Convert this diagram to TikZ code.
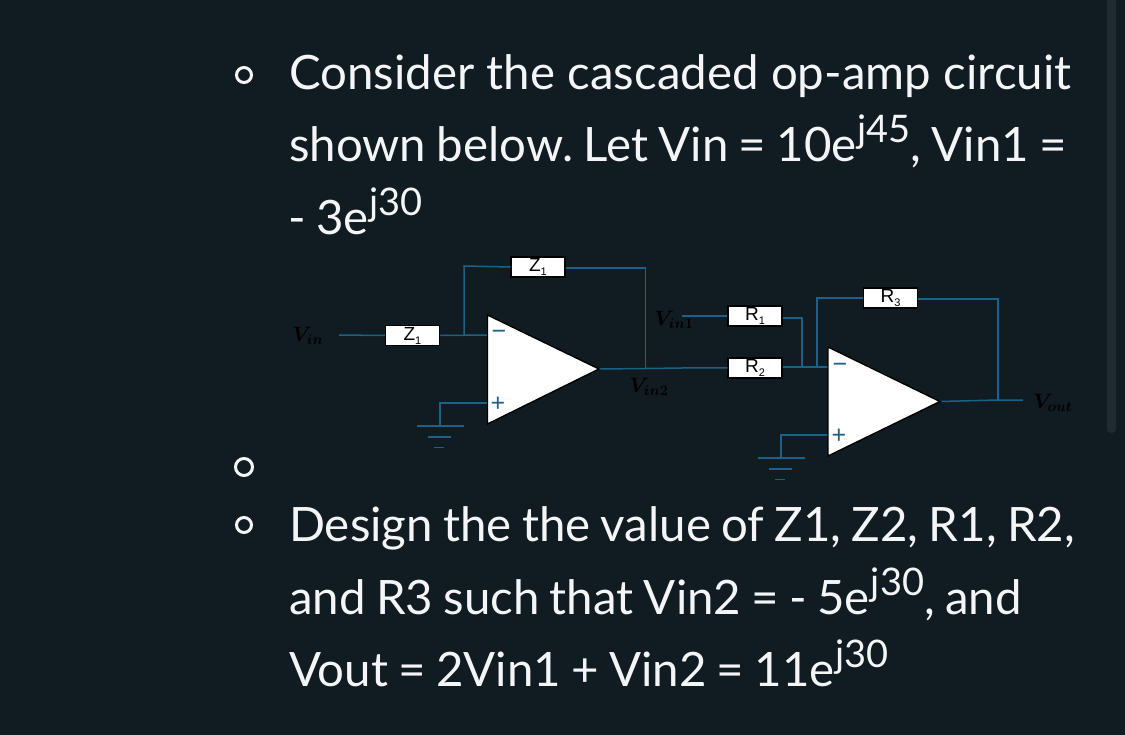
\documentclass[tikz,border=0pt]{standalone}
\usepackage{fontspec}
\setmainfont[WordSpace=0.85]{Lato}
\newfontfamily\widefont[WordSpace=1.02]{Lato}
\newfontfamily\boxfont{Liberation Sans}
\usepackage{tikz}
\definecolor{pagedark}{HTML}{111b22}
\definecolor{scrollgrey}{HTML}{1f2a31}
\definecolor{wireblue}{HTML}{1b6288}
\definecolor{textwhite}{HTML}{f4f5f6}
\tikzset{
	wire/.style={line width=1.5pt,color=wireblue},
	bodytext/.style={anchor=base west,inner sep=0pt,text=textwhite,font=\frenchspacing\fontsize{47.4}{47.4}\selectfont},
	partbox/.style={draw=black,fill=white,line width=1.5pt,minimum width=54pt,minimum height=20pt,inner sep=0pt,font=\boxfont\fontsize{19}{19}\selectfont},
	amp/.style={draw=black,fill=white,line width=1.4pt,line join=miter},
	voltlabel/.style={inner sep=0pt,text=black,font=\boldmath\fontsize{20}{20}\selectfont},
	signlabel/.style={inner sep=0pt,text=wireblue,font=\boxfont\fontsize{25}{25}\selectfont},
	bullet/.style={circle,draw=textwhite,line width=3pt,inner sep=0pt,minimum size=15pt}
}
\newcommand{\supj}[1]{\raisebox{19pt}{\fontsize{38}{38}\selectfont\kern1pt j#1}}
\newcommand{\partsub}[1]{\raisebox{-4pt}{\fontsize{11}{11}\selectfont #1}}
\begin{document}
\begin{tikzpicture}[x=1pt,y=-1pt]
	\fill [pagedark] (0,0) rectangle (1125,735);
	\useasboundingbox (0,0) rectangle (1125,735);
	\fill [scrollgrey,rounded corners=4pt] (1107,-6) rectangle (1116,433);

	% bullets
	\node [bullet] (bulleta) at (244,75) {};
	\node [bullet,minimum size=17pt] (bulletb) at (244,467) {};
	\node [bullet] (bulletc) at (244,525) {};

	% question text
	\node [bodytext] (linea) at (289,90) {\widefont Consider the cascaded op-amp circuit};
	\node [bodytext] (lineb) at (289,162) {shown below. Let Vin = 10e\supj{45}, Vin1 =};
	\node [bodytext] (linec) at (288,235) {- 3e\supj{30}};
	\node [bodytext] (lined) at (289,541) {Design the the value of Z1, Z2, R1, R2,};
	\node [bodytext] (linee) at (289,614) {and R3 such that Vin2 = - 5e\supj{30}, and};
	\node [bodytext] (linef) at (289,686) {Vout = 2Vin1 + Vin2 = 11e\supj{30}};

	% first stage
	\node [partbox] (zin) at (412.5,335.5) {Z\partsub{1}};
	\node [partbox] (zfb) at (538,267) {Z\partsub{1}};
	\coordinate (vinend) at (339,335);
	\coordinate (ampaminus) at (487.5,335);
	\coordinate (ampaplus) at (487.5,403);
	\coordinate (ampaout) at (599,369);
	\coordinate (junca) at (464,335);
	\coordinate (fbacorner) at (464,266);
	\coordinate (fbaright) at (645.5,268);
	\coordinate (fbadown) at (645.5,368.5);
	\coordinate (vinbreak) at (682,368);

	% second stage
	\node [partbox] (rone) at (755,316) {R\partsub{1}};
	\node [partbox] (rtwo) at (755,368) {R\partsub{2}};
	\node [partbox] (rfb) at (890.5,298) {R\partsub{3}};
	\coordinate (ronestart) at (682,316);
	\coordinate (ampbminus) at (828,367);
	\coordinate (ampbplus) at (828,435);
	\coordinate (ampbout) at (940,401.5);
	\coordinate (roneright) at (802,318);
	\coordinate (juncb) at (802,367);
	\coordinate (juncc) at (817,367);
	\coordinate (fbbcorner) at (817,298);
	\coordinate (fbbright) at (998,299);
	\coordinate (fbbdown) at (998,400);
	\coordinate (voutend) at (1023,400);

	% wires
	\draw [wire] (vinend) -- (zin.west);
	\draw [wire] (zin.east) -- (ampaminus);
	\draw [wire] (junca) -- (fbacorner) -- (zfb.west);
	\draw [wire] (zfb.east |- fbaright) -- (fbaright) -- (fbadown);
	\draw [wire] (ampaout) -- (fbadown) -- (vinbreak) -- (rtwo.west);
	\draw [wire] (ronestart) -- (rone.west);
	\draw [wire] (rone.east |- roneright) -- (roneright) -- (juncb);
	\draw [wire] (rtwo.east |- juncb) -- (ampbminus);
	\draw [wire] (juncc) -- (fbbcorner) -- (rfb.west);
	\draw [wire] (rfb.east |- fbbright) -- (fbbright) -- (fbbdown);
	\draw [wire] (ampbout) -- (fbbdown) -- (voutend);

	% grounds
	\foreach \gx/\gy/\pin in {440/426/ampaplus,781/458/ampbplus}{
		\draw [wire] (\pin) -- (\gx,\gy-23) -- (\gx,\gy);
		\draw [wire] (\gx-23.5,\gy) -- (\gx+23.5,\gy);
		\draw [wire] (\gx-12.5,\gy+11) -- (\gx+11,\gy+11);
		\draw [wire] (\gx-6.5,\gy+21.5) -- (\gx+3.5,\gy+21.5);
	}

	% op-amps
	\draw [amp] (487.5,315) -- (487.5,424) -- (ampaout) -- cycle;
	\draw [amp] (828,347) -- (828,456) -- (ampbout) -- cycle;
	\node [signlabel] (ampaminuslabel) at (499,335) {\textminus};
	\node [signlabel] (ampapluslabel) at (498,404) {+};
	\node [signlabel] (ampbminuslabel) at (840,367.5) {\textminus};
	\node [signlabel] (ampbpluslabel) at (839,436) {+};

	% voltage labels
	\node [voltlabel] (vinlabel) at (308,336) {$V_{in}$};
	\node [voltlabel] (vinonelabel) at (674,320) {$V_{in1}$};
	\node [voltlabel] (vintwolabel) at (649,387) {$V_{in2}$};
	\node [voltlabel] (voutlabel) at (1053,403) {$V_{out}$};
\end{tikzpicture}
\end{document}
